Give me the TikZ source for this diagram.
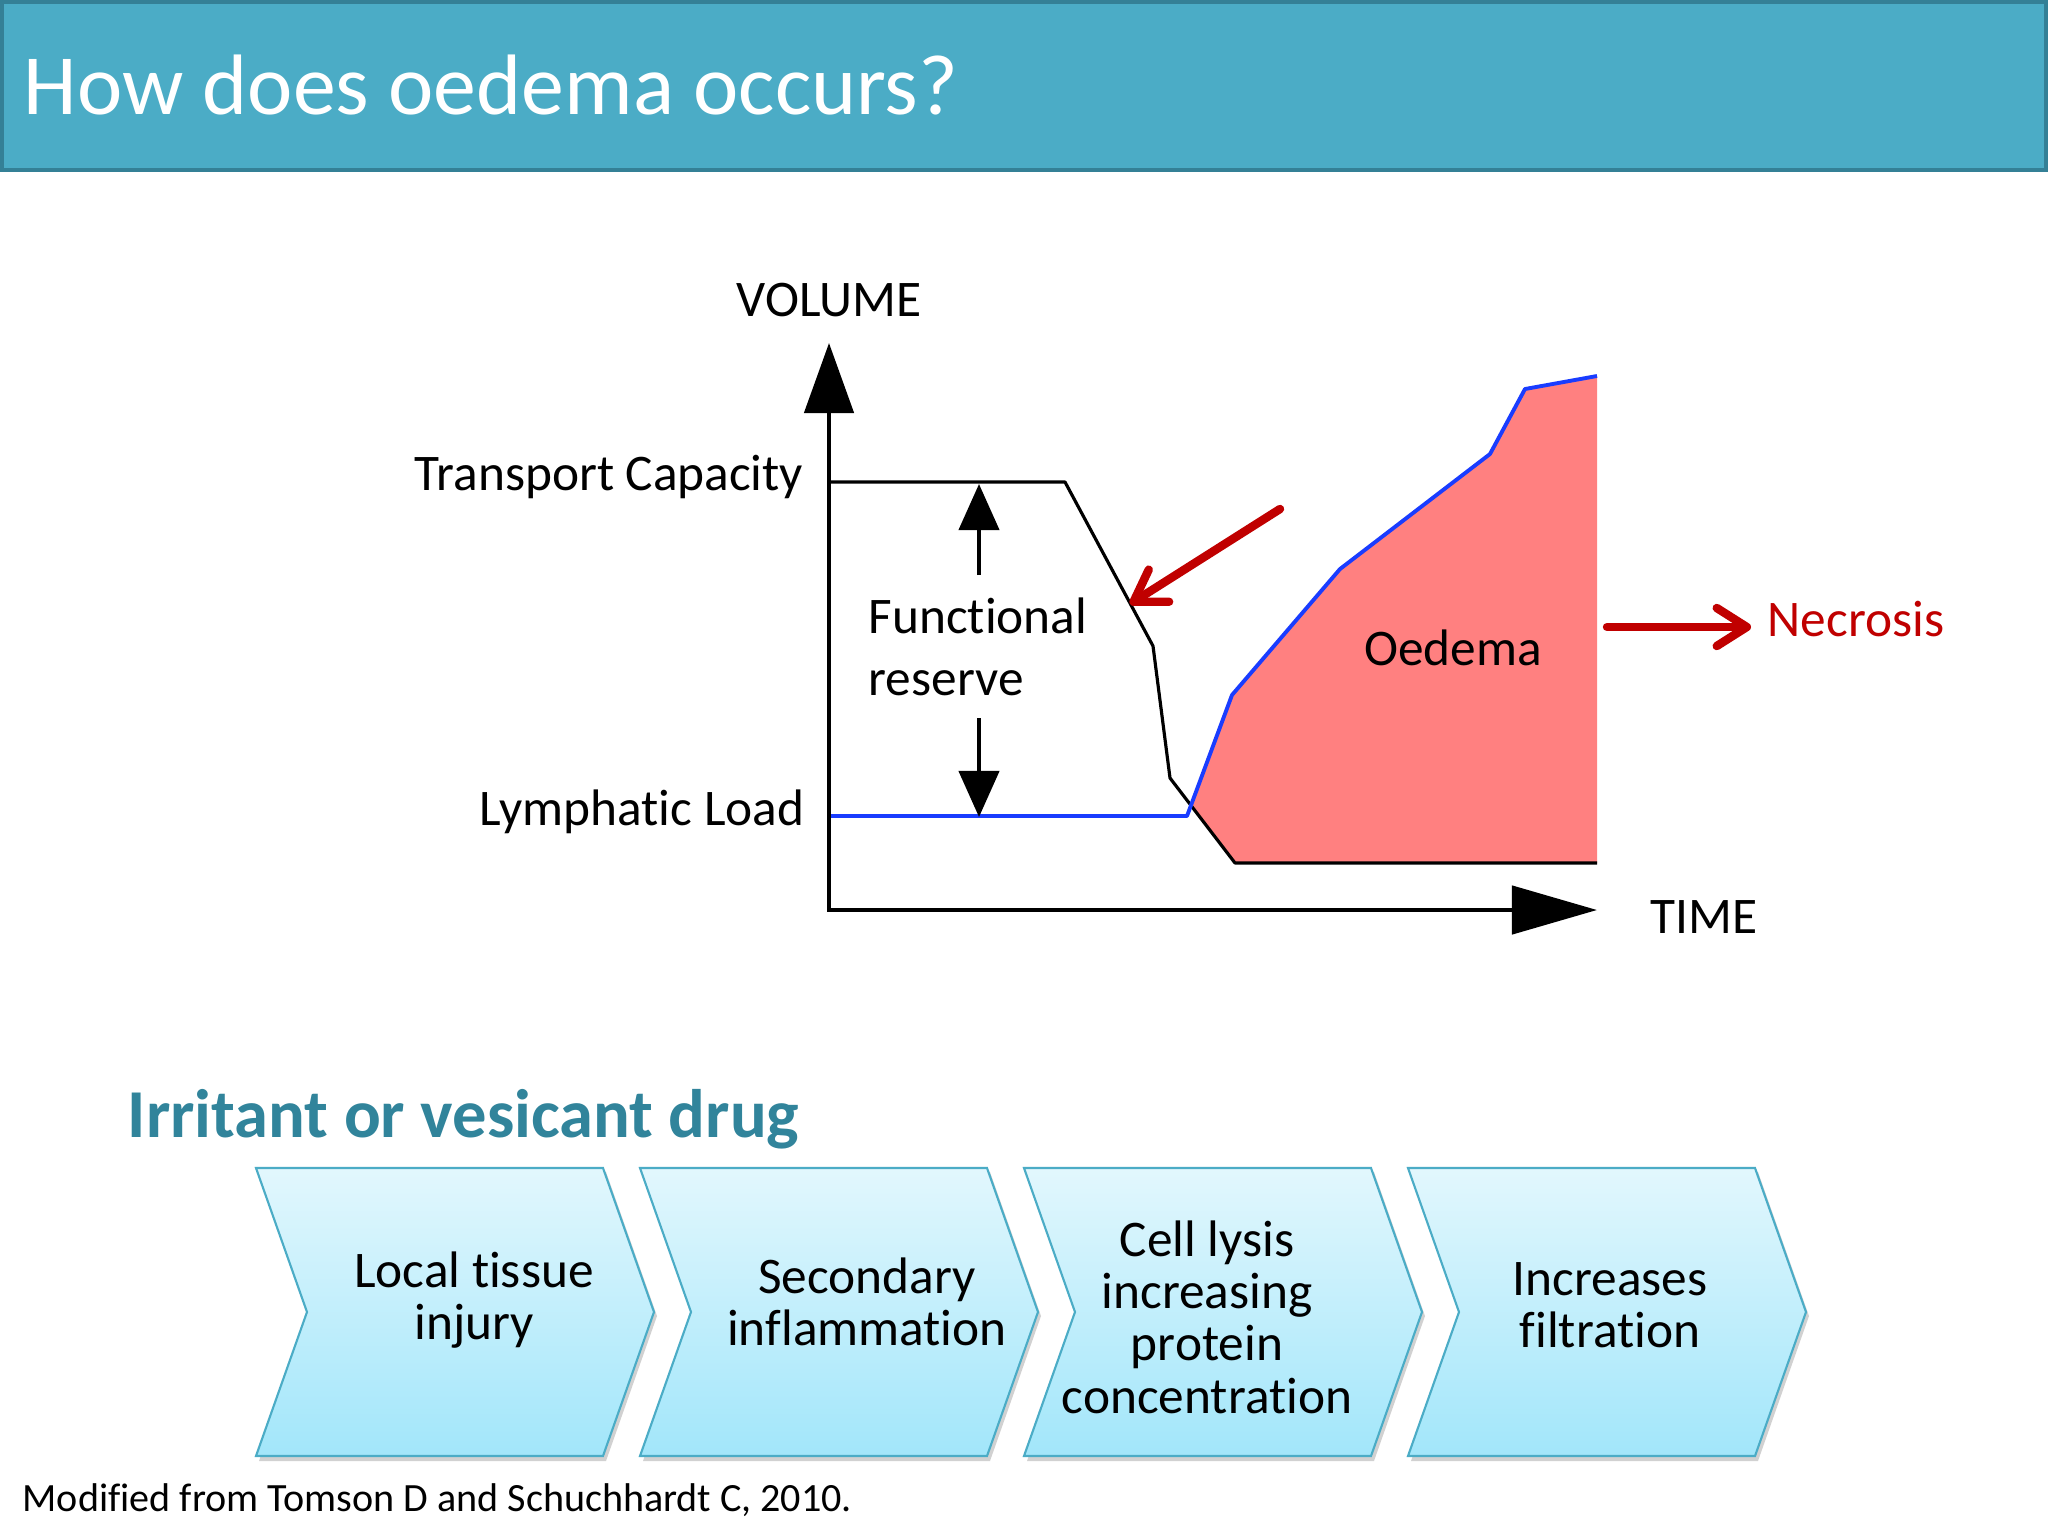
\documentclass[tikz,border=0pt]{standalone}
\usepackage{fontspec}
\setmainfont{Carlito}[Ligatures=NoCommon]
\usetikzlibrary{arrows.meta,positioning}
\definecolor{barfill}{RGB}{75,172,198}
\definecolor{baredge}{RGB}{52,128,150}
\definecolor{drugteal}{RGB}{49,132,155}
\definecolor{necred}{RGB}{192,0,0}
\definecolor{loadblue}{RGB}{25,60,255}
\definecolor{oedemared}{RGB}{255,128,128}
\definecolor{chevtop}{RGB}{226,247,253}
\definecolor{chevbot}{RGB}{162,230,250}
\definecolor{chevedge}{RGB}{75,172,198}

\begin{document}
\begin{tikzpicture}[x=0.01cm,y=-0.01cm,
	chart text/.style={font=\fontsize{14.6}{17.6}\selectfont,inner sep=0},
	step text/.style={font=\fontsize{14.6}{14.9}\selectfont,align=center,inner sep=0},
	red arrow/.style={necred,line width=2.4pt,line cap=round,-{Straight Barb[length=0.3cm,width=0.38cm,line cap=round,line join=round]}},
	reserve arrow/.style={line width=1.2pt,-{Triangle[length=0.46cm,width=0.4cm]}},
	chevron/.style={draw=chevedge,line width=0.6pt,top color=chevtop,bottom color=chevbot}]
	\useasboundingbox (0,0) rectangle (2048,1536);
	\fill[white] (0,0) rectangle (2048,1536);
	% title bar
	\draw[fill=barfill,draw=baredge,line width=1.2pt] (2,2) rectangle (2046,170);
	\node[anchor=base west,inner sep=0,text=white,font=\fontsize{24.4}{29}\selectfont] (title) at (23,114) {How does oedema occurs?};
	% chart
	\fill[oedemared] (1191,806) -- (1232,695) -- (1340,569) -- (1490,454) -- (1525,389) -- (1597,376) -- (1597,863) -- (1235,863) -- cycle;
	\draw[line width=0.9pt,line join=round] (829,482) -- (1065,482) -- (1153,646) -- (1170,778) -- (1235,863) -- (1597,863);
	\draw[loadblue,line width=1.1pt,line join=round] (829,816) -- (1187,816) -- (1232,695) -- (1340,569) -- (1490,454) -- (1525,389) -- (1597,376);
	\draw[line width=1.3pt,{Triangle[length=0.7cm,width=0.49cm]}-{Triangle[length=0.85cm,width=0.48cm]}] (829,343) -- (829,910) -- (1597,910);
	\node[chart text,anchor=base] (volume) at (829,316) {VOLUME};
	\node[chart text,anchor=base west] (time) at (1650,933) {TIME};
	\node[chart text,anchor=base east] (capacity) at (804,490) {Transport Capacity};
	\node[chart text,anchor=base east] (load) at (805,825) {Lymphatic Load};
	\node[chart text,anchor=west,align=left] (reserve) at (868,647) {Functional\\reserve};
	\node[chart text,anchor=base] (oedema) at (1453,665) {Oedema};
	\node[chart text,anchor=base west,text=necred] (necrosis) at (1767,636) {Necrosis};
	\coordinate (up from) at (979,575); \coordinate (up to) at (979,484);
	\coordinate (down from) at (979,718); \coordinate (down to) at (979,817);
	\draw[reserve arrow] (up from) -- (up to);
	\draw[reserve arrow] (down from) -- (down to);
	\coordinate (strike) at (1280,509); \coordinate (strike tip) at (1130,604);
	\draw[red arrow] (strike) -- (strike tip);
	\coordinate (necrosis tail) at (1607,627);
	\draw[red arrow] (necrosis tail) -- (necrosis tail -| necrosis.west) [shorten >=16*0.01cm];
	% drug cascade
	\node[anchor=base west,inner sep=0,text=drugteal,font=\fontsize{19.5}{23}\selectfont\bfseries] (drug) at (127,1137) {Irritant or vesicant drug};
	\foreach \i/\x/\cx/\cy/\t in {1/256/474/1300/{Local tissue\\injury},2/640/867/1302/{Secondary\\inflammation},3/1024/1207/1317/{Cell lysis\\increasing\\protein\\concentration},4/1408/1610/1305/{Increases\\filtration}} {
		\fill[black,opacity=0.18] (\x+3,1172) -- (\x+350,1172) -- (\x+401,1316) -- (\x+350,1461) -- (\x+3,1461) -- (\x+54,1316) -- cycle;
		\draw[chevron] (\x,1168) -- (\x+347,1168) -- (\x+398,1312) -- (\x+347,1456) -- (\x,1456) -- (\x+51,1312) -- cycle;
		\node[step text] (step\i) at (\cx,\cy) {\t};
	}
	\node[anchor=base west,inner sep=0,font=\fontsize{11.4}{13}\selectfont] (source) at (22,1511) {Modified from Tomson D and Schuchhardt C, 2010.};
\end{tikzpicture}
\end{document}
